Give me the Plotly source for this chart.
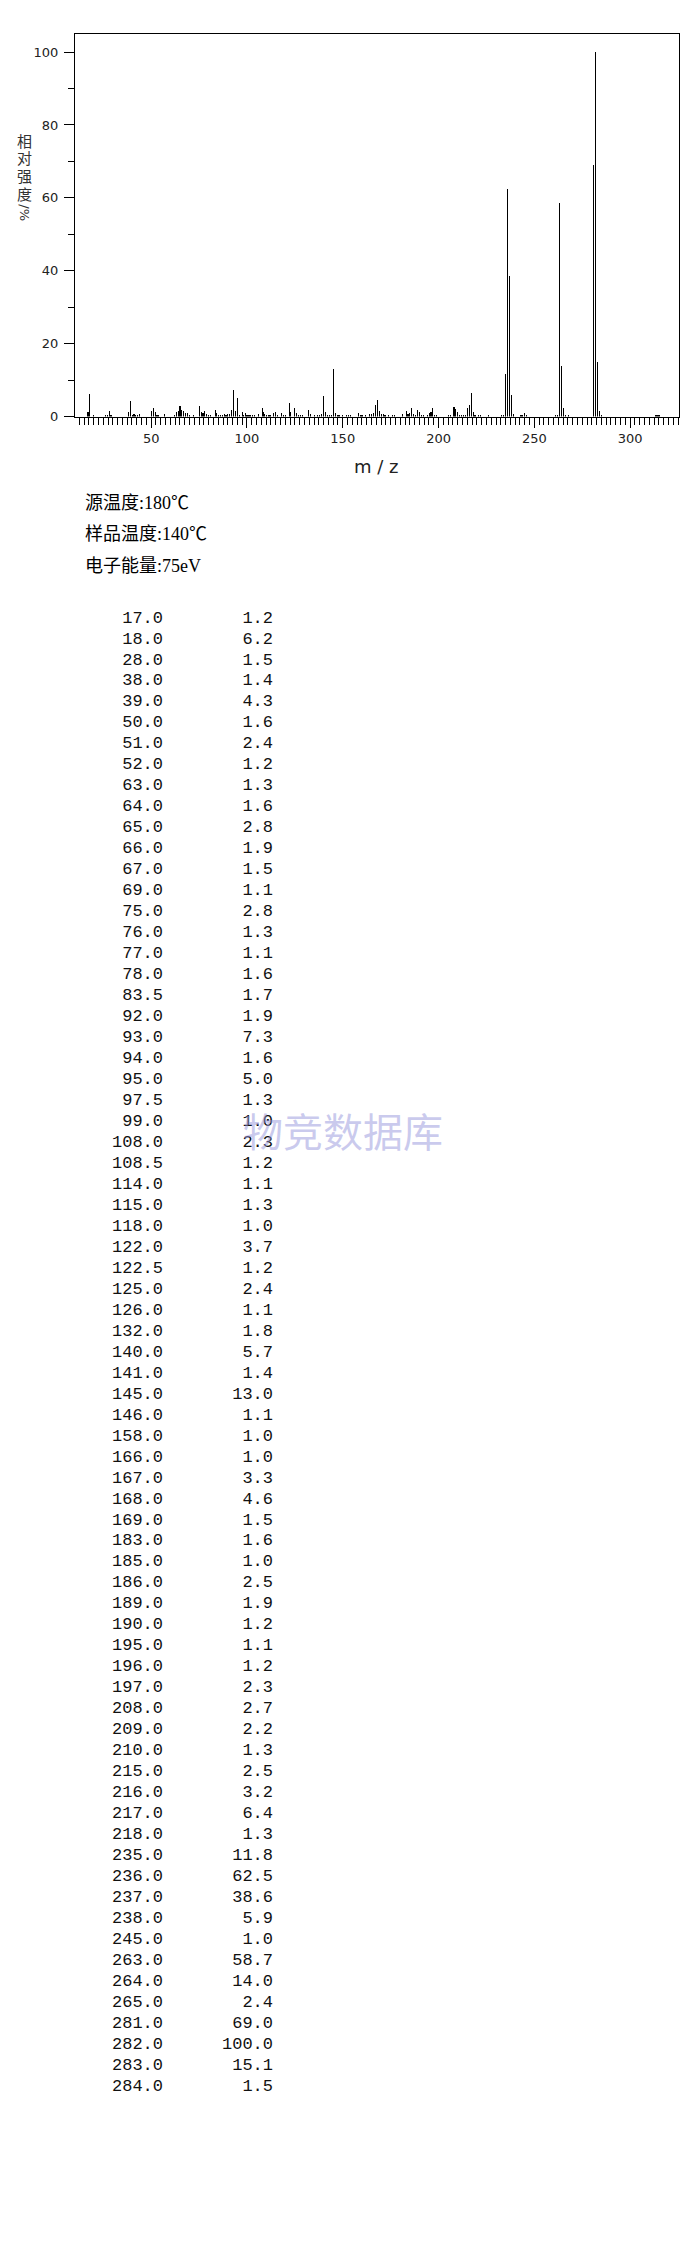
import plotly.graph_objects as go

W, H = 687, 2268

# ---- listed peaks (m/z, relative intensity %) ----
mz = [17.0, 18.0, 28.0, 38.0, 39.0, 50.0, 51.0, 52.0, 63.0, 64.0, 65.0, 66.0, 67.0, 69.0,
      75.0, 76.0, 77.0, 78.0, 83.5, 92.0, 93.0, 94.0, 95.0, 97.5, 99.0, 108.0, 108.5, 114.0,
      115.0, 118.0, 122.0, 122.5, 125.0, 126.0, 132.0, 140.0, 141.0, 145.0, 146.0, 158.0,
      166.0, 167.0, 168.0, 169.0, 183.0, 185.0, 186.0, 189.0, 190.0, 195.0, 196.0, 197.0,
      208.0, 209.0, 210.0, 215.0, 216.0, 217.0, 218.0, 235.0, 236.0, 237.0, 238.0, 245.0,
      263.0, 264.0, 265.0, 281.0, 282.0, 283.0, 284.0]
intensity = [1.2, 6.2, 1.5, 1.4, 4.3, 1.6, 2.4, 1.2, 1.3, 1.6, 2.8, 1.9, 1.5, 1.1,
             2.8, 1.3, 1.1, 1.6, 1.7, 1.9, 7.3, 1.6, 5.0, 1.3, 1.0, 2.3, 1.2, 1.1,
             1.3, 1.0, 3.7, 1.2, 2.4, 1.1, 1.8, 5.7, 1.4, 13.0, 1.1, 1.0,
             1.0, 3.3, 4.6, 1.5, 1.6, 1.0, 2.5, 1.9, 1.2, 1.1, 1.2, 2.3,
             2.7, 2.2, 1.3, 2.5, 3.2, 6.4, 1.3, 11.8, 62.5, 38.6, 5.9, 1.0,
             58.7, 14.0, 2.4, 69.0, 100.0, 15.1, 1.5]

# ---- small unlisted peaks, estimated from the plot ----
mz_minor = [20, 26, 27, 29, 40, 41, 42, 43, 44, 53, 54, 57, 62, 68, 70, 72, 79, 80, 81,
            84, 85, 86, 87, 88, 89, 90, 91, 96, 98, 100, 101, 102, 103, 104, 106, 109,
            110, 111, 112, 116, 119, 120, 127, 128, 129, 133, 135, 137, 138, 139, 142,
            143, 144, 147, 148, 150, 152, 153, 154, 159, 160, 162, 164, 165, 170, 171,
            172, 174, 176, 177, 181, 184, 187, 188, 191, 192, 194, 198, 199, 205, 206,
            211, 212, 213, 214, 219, 221, 222, 226, 233, 234, 239, 243, 244, 246, 261,
            262, 266, 268, 285, 313, 314, 315]
int_minor = [0.4, 0.3, 0.5, 0.4, 0.5, 0.8, 0.5, 0.5, 0.6, 0.5, 0.4, 0.8, 0.3, 0.9, 0.5,
             0.3, 0.6, 0.5, 0.5, 0.9, 0.5, 0.4, 0.5, 0.6, 0.5, 0.6, 0.8, 0.5, 0.5, 0.4,
             0.4, 0.4, 0.4, 0.5, 0.7, 0.6, 0.4, 0.4, 0.5, 0.4, 0.5, 0.4, 0.5, 0.4, 0.4,
             0.6, 0.3, 0.4, 0.5, 0.6, 0.5, 0.5, 0.5, 0.4, 0.3, 0.3, 0.4, 0.5, 0.4, 0.5,
             0.4, 0.3, 0.6, 0.6, 0.6, 0.7, 0.4, 0.3, 0.3, 0.3, 0.7, 0.7, 0.7, 0.5, 0.4,
             0.3, 0.3, 0.5, 0.3, 0.3, 0.4, 0.5, 0.5, 0.4, 0.5, 0.5, 0.3, 0.3, 0.3, 0.4,
             0.4, 0.6, 0.4, 0.5, 0.4, 0.4, 0.5, 0.4, 0.3, 0.4, 0.4, 0.5, 0.4]

x_tick_step = 50
y_tick_step = 20

info_lines = ["源温度:180℃", "样品温度:140℃", "电子能量:75eV"]
y_title_chars = "相对强度"
y_title_unit = "/%"
x_title = "m / z"
watermark = "物竞数据库"

# ---- layout constants (pixels) ----
PL, PR, PT, PB = 74.9, 678.6, 34.0, 418.0
ROW0, ROW_H = 620.5, 21.05
COL1_R, COL2_R = 163.0, 273.0


def px(x):
    return x / W


def py(y):
    return 1 - y / H


fig = go.Figure()

# stems (very thin bars; plotly snaps them to one whole pixel)
all_mz = list(mz) + list(mz_minor)
all_int = list(intensity) + list(int_minor)
fig.add_trace(go.Bar(x=all_mz, y=all_int, width=0.06,
                     marker=dict(color="black", line=dict(width=0)),
                     hoverinfo="skip", showlegend=False))

# peak table (text cells)
rows_y = [ROW0 + i * ROW_H for i in range(len(mz))]
tfont = dict(family="Liberation Mono, Courier New, monospace", size=17, color="#111")
fig.add_trace(go.Scatter(x=[COL1_R] * len(mz), y=rows_y, text=[f"{m:.1f}" for m in mz],
                         mode="text", textposition="middle left", textfont=tfont,
                         xaxis="x2", yaxis="y2", hoverinfo="skip", showlegend=False))
fig.add_trace(go.Scatter(x=[COL2_R] * len(intensity), y=rows_y,
                         text=[f"{v:.1f}" for v in intensity],
                         mode="text", textposition="middle left", textfont=tfont,
                         xaxis="x2", yaxis="y2", hoverinfo="skip", showlegend=False))

axfont = dict(family="DejaVu Sans, Verdana, sans-serif", size=13, color="#222")
common = dict(showline=True, linecolor="black", linewidth=1, mirror=True, showgrid=False,
              zeroline=False, ticks="outside", tickcolor="black", tickwidth=1,
              tickfont=axfont, tickmode="linear", tick0=0)

annotations = []
# y-axis title: stacked upright characters + rotated unit
yc = [140.8, 158.5, 176.2, 194.0]
for ch, yy in zip(y_title_chars, yc):
    annotations.append(dict(x=px(25), y=py(yy), xref="paper", yref="paper", text=ch,
                            showarrow=False, xanchor="center", yanchor="middle",
                            font=dict(family="Noto Sans CJK SC", size=15, color="#333")))
annotations.append(dict(x=px(25), y=py(214), xref="paper", yref="paper", text=y_title_unit,
                        textangle=90, showarrow=False, xanchor="center", yanchor="middle",
                        font=dict(family="DejaVu Sans", size=13, color="#333")))
# x-axis title
annotations.append(dict(x=px(376.7), y=py(468), xref="paper", yref="paper", text=x_title,
                        showarrow=False, xanchor="center", yanchor="middle",
                        font=dict(family="DejaVu Sans", size=18, color="#222")))
# info lines
for t, yy in zip(info_lines, [505, 536, 568]):
    annotations.append(dict(x=px(83), y=py(yy), xref="paper", yref="paper", text=t,
                            showarrow=False, xanchor="left", yanchor="middle",
                            font=dict(family="Liberation Serif, Noto Sans CJK SC", size=18,
                                      color="black")))
# watermark
annotations.append(dict(x=px(343), y=py(1134), xref="paper", yref="paper", text=watermark,
                        showarrow=False, xanchor="center", yanchor="middle",
                        font=dict(family="Noto Sans CJK SC", size=40,
                                  color="rgba(150,150,220,0.5)")))

fig.update_layout(
    width=W, height=H, margin=dict(l=0, r=0, t=0, b=0),
    paper_bgcolor="white", plot_bgcolor="rgba(0,0,0,0)", showlegend=False,
    bargap=0, bargroupgap=0,
    xaxis=dict(domain=[px(PL), px(PR)], range=[10.2, 325.3], dtick=x_tick_step, ticklen=10,
               minor=dict(dtick=2.5, tick0=0, ticklen=7, ticks="outside", tickcolor="black",
                          tickwidth=1), anchor="y", **common),
    yaxis=dict(domain=[py(PB), py(PT)], range=[0, 105], dtick=y_tick_step, ticklen=10,
               ticklabelstandoff=3,
               minor=dict(dtick=10, tick0=0, ticklen=6, ticks="outside", tickcolor="black",
                          tickwidth=1), anchor="x", **common),
    xaxis2=dict(domain=[0, 1], range=[0, W], visible=False, anchor="y2", fixedrange=True),
    yaxis2=dict(domain=[0, 1], range=[H, 0], visible=False, anchor="x2", fixedrange=True),
    annotations=annotations,
)

fig.write_html("out.html", config={"displayModeBar": False},
               post_script="document.body.style.margin='0';")
